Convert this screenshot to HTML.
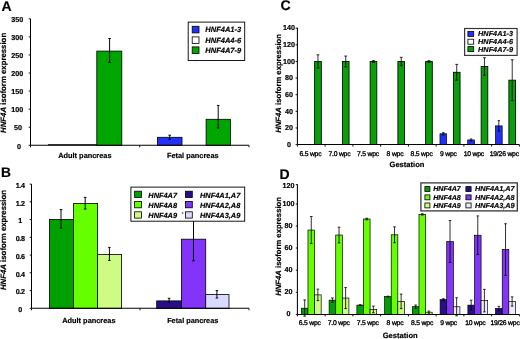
<!DOCTYPE html>
<html lang="en"><head><meta charset="utf-8"><title>HNF4A isoform expression</title>
<style>html,body{margin:0;padding:0;background:#fff;overflow:hidden}body{width:520px;height:339px}svg{display:block;font-family:'Liberation Sans', Arial, Helvetica, sans-serif;fill:#000}</style></head><body>
<svg width="520" height="339" viewBox="0 0 520 339" text-rendering="geometricPrecision">
<rect x="0" y="0" width="520" height="339" fill="#fff" stroke="none"/>
<defs><filter id="soft" x="0" y="0" width="520" height="339" filterUnits="userSpaceOnUse"><feGaussianBlur stdDeviation="0.35"/></filter></defs>
<g id="figure" filter="url(#soft)">
<text x="1.60" y="10.90" font-size="14" text-anchor="start" font-weight="bold" font-style="normal"  stroke="#000" stroke-width="0.18">A</text>
<line x1="48.00" y1="144.70" x2="97.00" y2="144.70" stroke="#000" stroke-width="1.035"/>
<rect x="96.80" y="51.10" width="25.00" height="94.20" fill="#05a605" stroke="#000" stroke-width="0.805"/>
<line x1="109.60" y1="38.50" x2="109.60" y2="62.40" stroke="#000" stroke-width="0.977"/>
<line x1="108.30" y1="38.50" x2="110.90" y2="38.50" stroke="#000" stroke-width="0.977"/>
<line x1="108.30" y1="62.40" x2="110.90" y2="62.40" stroke="#000" stroke-width="0.977"/>
<rect x="157.40" y="137.30" width="24.60" height="8.00" fill="#2233f6" stroke="#000" stroke-width="0.805"/>
<line x1="169.70" y1="135.20" x2="169.70" y2="139.30" stroke="#000" stroke-width="0.977"/>
<line x1="168.40" y1="135.20" x2="171.00" y2="135.20" stroke="#000" stroke-width="0.977"/>
<line x1="168.40" y1="139.30" x2="171.00" y2="139.30" stroke="#000" stroke-width="0.977"/>
<rect x="206.10" y="119.30" width="24.30" height="26.00" fill="#05a605" stroke="#000" stroke-width="0.805"/>
<line x1="218.20" y1="105.40" x2="218.20" y2="128.10" stroke="#000" stroke-width="0.977"/>
<line x1="216.90" y1="105.40" x2="219.50" y2="105.40" stroke="#000" stroke-width="0.977"/>
<line x1="216.90" y1="128.10" x2="219.50" y2="128.10" stroke="#000" stroke-width="0.977"/>
<line x1="30.50" y1="18.80" x2="30.50" y2="145.30" stroke="#000" stroke-width="1.035"/>
<line x1="30.50" y1="145.30" x2="249.00" y2="145.30" stroke="#000" stroke-width="1.035"/>
<line x1="28.70" y1="145.30" x2="30.50" y2="145.30" stroke="#000" stroke-width="0.92"/>
<text x="21.00" y="148.50" font-size="7.2" text-anchor="end" font-weight="bold" font-style="normal"  stroke="#000" stroke-width="0.18">0</text>
<line x1="28.70" y1="127.23" x2="30.50" y2="127.23" stroke="#000" stroke-width="0.92"/>
<text x="21.90" y="130.43" font-size="7.2" text-anchor="end" font-weight="bold" font-style="normal"  stroke="#000" stroke-width="0.18">50</text>
<line x1="28.70" y1="109.16" x2="30.50" y2="109.16" stroke="#000" stroke-width="0.92"/>
<text x="23.30" y="112.36" font-size="7.2" text-anchor="end" font-weight="bold" font-style="normal"  stroke="#000" stroke-width="0.18">100</text>
<line x1="28.70" y1="91.09" x2="30.50" y2="91.09" stroke="#000" stroke-width="0.92"/>
<text x="23.30" y="94.29" font-size="7.2" text-anchor="end" font-weight="bold" font-style="normal"  stroke="#000" stroke-width="0.18">150</text>
<line x1="28.70" y1="73.01" x2="30.50" y2="73.01" stroke="#000" stroke-width="0.92"/>
<text x="23.30" y="76.21" font-size="7.2" text-anchor="end" font-weight="bold" font-style="normal"  stroke="#000" stroke-width="0.18">200</text>
<line x1="28.70" y1="54.94" x2="30.50" y2="54.94" stroke="#000" stroke-width="0.92"/>
<text x="23.30" y="58.14" font-size="7.2" text-anchor="end" font-weight="bold" font-style="normal"  stroke="#000" stroke-width="0.18">250</text>
<line x1="28.70" y1="36.87" x2="30.50" y2="36.87" stroke="#000" stroke-width="0.92"/>
<text x="23.30" y="40.07" font-size="7.2" text-anchor="end" font-weight="bold" font-style="normal"  stroke="#000" stroke-width="0.18">300</text>
<line x1="28.70" y1="18.80" x2="30.50" y2="18.80" stroke="#000" stroke-width="0.92"/>
<text x="23.30" y="22.00" font-size="7.2" text-anchor="end" font-weight="bold" font-style="normal"  stroke="#000" stroke-width="0.18">350</text>
<line x1="30.50" y1="145.30" x2="30.50" y2="147.30" stroke="#000" stroke-width="0.92"/>
<line x1="139.70" y1="145.30" x2="139.70" y2="147.30" stroke="#000" stroke-width="0.92"/>
<line x1="249.00" y1="145.30" x2="249.00" y2="147.30" stroke="#000" stroke-width="0.92"/>
<text x="84.90" y="157.80" font-size="7.4" text-anchor="middle" font-weight="bold" font-style="normal"  stroke="#000" stroke-width="0.18">Adult pancreas</text>
<text x="192.80" y="157.80" font-size="7.4" text-anchor="middle" font-weight="bold" font-style="normal"  stroke="#000" stroke-width="0.18">Fetal pancreas</text>
<text transform="translate(5.70,82.90) rotate(-90)" font-size="7.8" text-anchor="middle" font-weight="bold" stroke="#000" stroke-width="0.18"><tspan font-style="italic">HNF4A</tspan> isoform expression</text>
<rect x="188.20" y="22.10" width="56.50" height="38.40" fill="#fff" stroke="#000" stroke-width="0.92"/>
<rect x="192.20" y="26.30" width="6.80" height="6.60" fill="#2233f6" stroke="#000" stroke-width="0.805"/>
<text x="205.30" y="32.20" font-size="7.5" text-anchor="start" font-weight="bold" font-style="italic"  stroke="#000" stroke-width="0.18">HNF4A1-3</text>
<rect x="192.20" y="36.90" width="6.80" height="6.50" fill="#ffffff" stroke="#000" stroke-width="0.805"/>
<text x="205.30" y="42.70" font-size="7.5" text-anchor="start" font-weight="bold" font-style="italic"  stroke="#000" stroke-width="0.18">HNF4A4-6</text>
<rect x="192.20" y="46.90" width="6.80" height="6.60" fill="#05a605" stroke="#000" stroke-width="0.805"/>
<text x="205.30" y="52.90" font-size="7.5" text-anchor="start" font-weight="bold" font-style="italic"  stroke="#000" stroke-width="0.18">HNF4A7-9</text>
<text x="1.10" y="177.40" font-size="13.8" text-anchor="start" font-weight="bold" font-style="normal"  stroke="#000" stroke-width="0.18">B</text>
<rect x="49.40" y="219.40" width="24.20" height="88.90" fill="#04a004" stroke="#000" stroke-width="0.805"/>
<rect x="73.60" y="203.50" width="24.00" height="104.80" fill="#66ff00" stroke="#000" stroke-width="0.805"/>
<rect x="97.60" y="254.50" width="24.00" height="53.80" fill="#cefb83" stroke="#000" stroke-width="0.805"/>
<line x1="61.00" y1="209.60" x2="61.00" y2="228.10" stroke="#000" stroke-width="0.977"/>
<line x1="59.70" y1="209.60" x2="62.30" y2="209.60" stroke="#000" stroke-width="0.977"/>
<line x1="59.70" y1="228.10" x2="62.30" y2="228.10" stroke="#000" stroke-width="0.977"/>
<line x1="85.20" y1="197.40" x2="85.20" y2="209.00" stroke="#000" stroke-width="0.977"/>
<line x1="83.90" y1="197.40" x2="86.50" y2="197.40" stroke="#000" stroke-width="0.977"/>
<line x1="83.90" y1="209.00" x2="86.50" y2="209.00" stroke="#000" stroke-width="0.977"/>
<line x1="109.40" y1="247.40" x2="109.40" y2="260.40" stroke="#000" stroke-width="0.977"/>
<line x1="108.20" y1="247.40" x2="110.60" y2="247.40" stroke="#000" stroke-width="0.977"/>
<line x1="108.20" y1="260.40" x2="110.60" y2="260.40" stroke="#000" stroke-width="0.977"/>
<rect x="156.70" y="300.90" width="24.80" height="7.40" fill="#2a0d8c" stroke="#000" stroke-width="0.805"/>
<rect x="181.50" y="239.20" width="24.20" height="69.10" fill="#8234f8" stroke="#000" stroke-width="0.805"/>
<rect x="205.70" y="294.60" width="23.30" height="13.70" fill="#d9d9ff" stroke="#000" stroke-width="0.805"/>
<line x1="169.10" y1="298.30" x2="169.10" y2="302.60" stroke="#000" stroke-width="0.977"/>
<line x1="167.80" y1="298.30" x2="170.40" y2="298.30" stroke="#000" stroke-width="0.977"/>
<line x1="167.80" y1="302.60" x2="170.40" y2="302.60" stroke="#000" stroke-width="0.977"/>
<line x1="193.50" y1="217.80" x2="193.50" y2="260.80" stroke="#000" stroke-width="0.977"/>
<line x1="192.20" y1="217.80" x2="194.80" y2="217.80" stroke="#000" stroke-width="0.977"/>
<line x1="192.20" y1="260.80" x2="194.80" y2="260.80" stroke="#000" stroke-width="0.977"/>
<line x1="216.90" y1="290.60" x2="216.90" y2="298.00" stroke="#000" stroke-width="0.977"/>
<line x1="215.60" y1="290.60" x2="218.20" y2="290.60" stroke="#000" stroke-width="0.977"/>
<line x1="215.60" y1="298.00" x2="218.20" y2="298.00" stroke="#000" stroke-width="0.977"/>
<line x1="31.50" y1="184.10" x2="31.50" y2="308.30" stroke="#000" stroke-width="1.035"/>
<line x1="31.50" y1="308.30" x2="249.00" y2="308.30" stroke="#000" stroke-width="1.035"/>
<line x1="29.70" y1="308.30" x2="31.50" y2="308.30" stroke="#000" stroke-width="0.92"/>
<text x="20.20" y="312.20" font-size="7.2" text-anchor="middle" font-weight="bold" font-style="normal" letter-spacing="-0.35" stroke="#000" stroke-width="0.18">0</text>
<line x1="29.70" y1="290.56" x2="31.50" y2="290.56" stroke="#000" stroke-width="0.92"/>
<text x="20.20" y="294.46" font-size="7.2" text-anchor="middle" font-weight="bold" font-style="normal" letter-spacing="-0.35" stroke="#000" stroke-width="0.18">0.2</text>
<line x1="29.70" y1="272.81" x2="31.50" y2="272.81" stroke="#000" stroke-width="0.92"/>
<text x="20.20" y="276.71" font-size="7.2" text-anchor="middle" font-weight="bold" font-style="normal" letter-spacing="-0.35" stroke="#000" stroke-width="0.18">0.4</text>
<line x1="29.70" y1="255.07" x2="31.50" y2="255.07" stroke="#000" stroke-width="0.92"/>
<text x="20.20" y="258.97" font-size="7.2" text-anchor="middle" font-weight="bold" font-style="normal" letter-spacing="-0.35" stroke="#000" stroke-width="0.18">0.6</text>
<line x1="29.70" y1="237.33" x2="31.50" y2="237.33" stroke="#000" stroke-width="0.92"/>
<text x="20.20" y="241.23" font-size="7.2" text-anchor="middle" font-weight="bold" font-style="normal" letter-spacing="-0.35" stroke="#000" stroke-width="0.18">0.8</text>
<line x1="29.70" y1="219.59" x2="31.50" y2="219.59" stroke="#000" stroke-width="0.92"/>
<text x="20.20" y="223.49" font-size="7.2" text-anchor="middle" font-weight="bold" font-style="normal" letter-spacing="-0.35" stroke="#000" stroke-width="0.18">1</text>
<line x1="29.70" y1="201.84" x2="31.50" y2="201.84" stroke="#000" stroke-width="0.92"/>
<text x="20.20" y="205.74" font-size="7.2" text-anchor="middle" font-weight="bold" font-style="normal" letter-spacing="-0.35" stroke="#000" stroke-width="0.18">1.2</text>
<line x1="29.70" y1="184.10" x2="31.50" y2="184.10" stroke="#000" stroke-width="0.92"/>
<text x="20.20" y="188.00" font-size="7.2" text-anchor="middle" font-weight="bold" font-style="normal" letter-spacing="-0.35" stroke="#000" stroke-width="0.18">1.4</text>
<line x1="31.50" y1="308.30" x2="31.50" y2="310.30" stroke="#000" stroke-width="0.92"/>
<line x1="140.00" y1="308.30" x2="140.00" y2="310.30" stroke="#000" stroke-width="0.92"/>
<line x1="249.00" y1="308.30" x2="249.00" y2="310.30" stroke="#000" stroke-width="0.92"/>
<text x="88.90" y="323.20" font-size="7.4" text-anchor="middle" font-weight="bold" font-style="normal"  stroke="#000" stroke-width="0.18">Adult pancreas</text>
<text x="192.70" y="323.00" font-size="7.3" text-anchor="middle" font-weight="bold" font-style="normal"  stroke="#000" stroke-width="0.18">Fetal pancreas</text>
<text transform="translate(5.60,240.00) rotate(-90)" font-size="7.8" text-anchor="middle" font-weight="bold" stroke="#000" stroke-width="0.18"><tspan font-style="italic">HNF4A</tspan> isoform expression</text>
<rect x="130.90" y="187.10" width="113.80" height="34.10" fill="#fff" stroke="#000" stroke-width="0.92"/>
<rect x="134.60" y="191.20" width="6.80" height="6.30" fill="#04a004" stroke="#000" stroke-width="0.805"/>
<text x="148.30" y="197.50" font-size="7.4" text-anchor="start" font-weight="bold" font-style="italic"  stroke="#000" stroke-width="0.18">HNF4A7</text>
<rect x="134.60" y="201.50" width="6.80" height="6.30" fill="#66ff00" stroke="#000" stroke-width="0.805"/>
<text x="148.30" y="207.80" font-size="7.4" text-anchor="start" font-weight="bold" font-style="italic"  stroke="#000" stroke-width="0.18">HNF4A8</text>
<rect x="134.60" y="211.80" width="6.80" height="6.30" fill="#cefb83" stroke="#000" stroke-width="0.805"/>
<text x="148.30" y="218.20" font-size="7.4" text-anchor="start" font-weight="bold" font-style="italic"  stroke="#000" stroke-width="0.18">HNF4A9</text>
<line x1="181.80" y1="213.00" x2="183.40" y2="213.00" stroke="#000" stroke-width="0.92"/>
<rect x="185.50" y="191.20" width="6.80" height="6.30" fill="#2a0d8c" stroke="#000" stroke-width="0.805"/>
<text x="200.00" y="197.50" font-size="7.4" text-anchor="start" font-weight="bold" font-style="italic"  stroke="#000" stroke-width="0.18">HNF4A1,A7</text>
<rect x="185.50" y="201.50" width="6.80" height="6.30" fill="#8234f8" stroke="#000" stroke-width="0.805"/>
<text x="200.00" y="207.80" font-size="7.4" text-anchor="start" font-weight="bold" font-style="italic"  stroke="#000" stroke-width="0.18">HNF4A2,A8</text>
<rect x="185.50" y="211.80" width="6.80" height="6.30" fill="#d9d9ff" stroke="#000" stroke-width="0.805"/>
<text x="200.00" y="218.20" font-size="7.4" text-anchor="start" font-weight="bold" font-style="italic"  stroke="#000" stroke-width="0.18">HNF4A3,A9</text>
<text x="280.40" y="10.40" font-size="14" text-anchor="start" font-weight="bold" font-style="normal"  stroke="#000" stroke-width="0.18">C</text>
<rect x="314.62" y="61.46" width="6.70" height="83.14" fill="#079e07" stroke="#000" stroke-width="0.805"/>
<line x1="317.97" y1="54.81" x2="317.97" y2="68.11" stroke="#000" stroke-width="0.805"/>
<line x1="316.57" y1="54.81" x2="319.37" y2="54.81" stroke="#000" stroke-width="0.805"/>
<line x1="316.57" y1="68.11" x2="319.37" y2="68.11" stroke="#000" stroke-width="0.805"/>
<rect x="342.37" y="61.46" width="6.70" height="83.14" fill="#079e07" stroke="#000" stroke-width="0.805"/>
<line x1="345.72" y1="56.05" x2="345.72" y2="66.86" stroke="#000" stroke-width="0.805"/>
<line x1="344.32" y1="56.05" x2="347.12" y2="56.05" stroke="#000" stroke-width="0.805"/>
<line x1="344.32" y1="66.86" x2="347.12" y2="66.86" stroke="#000" stroke-width="0.805"/>
<rect x="370.12" y="61.46" width="6.70" height="83.14" fill="#079e07" stroke="#000" stroke-width="0.805"/>
<line x1="373.47" y1="60.63" x2="373.47" y2="62.29" stroke="#000" stroke-width="0.805"/>
<line x1="372.07" y1="60.63" x2="374.87" y2="60.63" stroke="#000" stroke-width="0.805"/>
<line x1="372.07" y1="62.29" x2="374.87" y2="62.29" stroke="#000" stroke-width="0.805"/>
<rect x="397.87" y="61.46" width="6.70" height="83.14" fill="#079e07" stroke="#000" stroke-width="0.805"/>
<line x1="401.22" y1="57.30" x2="401.22" y2="65.61" stroke="#000" stroke-width="0.805"/>
<line x1="399.82" y1="57.30" x2="402.62" y2="57.30" stroke="#000" stroke-width="0.805"/>
<line x1="399.82" y1="65.61" x2="402.62" y2="65.61" stroke="#000" stroke-width="0.805"/>
<rect x="425.62" y="61.46" width="6.70" height="83.14" fill="#079e07" stroke="#000" stroke-width="0.805"/>
<line x1="428.97" y1="60.63" x2="428.97" y2="62.29" stroke="#000" stroke-width="0.805"/>
<line x1="427.57" y1="60.63" x2="430.37" y2="60.63" stroke="#000" stroke-width="0.805"/>
<line x1="427.57" y1="62.29" x2="430.37" y2="62.29" stroke="#000" stroke-width="0.805"/>
<rect x="439.97" y="133.79" width="6.70" height="10.81" fill="#2233f6" stroke="#000" stroke-width="0.69"/>
<line x1="443.32" y1="132.63" x2="443.32" y2="134.96" stroke="#000" stroke-width="0.805"/>
<line x1="442.12" y1="132.63" x2="444.52" y2="132.63" stroke="#000" stroke-width="0.805"/>
<line x1="442.12" y1="134.96" x2="444.52" y2="134.96" stroke="#000" stroke-width="0.805"/>
<rect x="453.37" y="72.27" width="6.70" height="72.33" fill="#079e07" stroke="#000" stroke-width="0.805"/>
<line x1="456.72" y1="64.37" x2="456.72" y2="80.16" stroke="#000" stroke-width="0.805"/>
<line x1="455.32" y1="64.37" x2="458.12" y2="64.37" stroke="#000" stroke-width="0.805"/>
<line x1="455.32" y1="80.16" x2="458.12" y2="80.16" stroke="#000" stroke-width="0.805"/>
<rect x="467.72" y="139.94" width="6.70" height="4.66" fill="#2233f6" stroke="#000" stroke-width="0.69"/>
<line x1="471.07" y1="138.95" x2="471.07" y2="140.94" stroke="#000" stroke-width="0.805"/>
<line x1="469.88" y1="138.95" x2="472.27" y2="138.95" stroke="#000" stroke-width="0.805"/>
<line x1="469.88" y1="140.94" x2="472.27" y2="140.94" stroke="#000" stroke-width="0.805"/>
<rect x="481.12" y="66.45" width="6.70" height="78.15" fill="#079e07" stroke="#000" stroke-width="0.805"/>
<line x1="484.47" y1="57.72" x2="484.47" y2="75.18" stroke="#000" stroke-width="0.805"/>
<line x1="483.07" y1="57.72" x2="485.87" y2="57.72" stroke="#000" stroke-width="0.805"/>
<line x1="483.07" y1="75.18" x2="485.87" y2="75.18" stroke="#000" stroke-width="0.805"/>
<rect x="495.47" y="125.89" width="6.70" height="18.71" fill="#2233f6" stroke="#000" stroke-width="0.69"/>
<line x1="498.82" y1="120.65" x2="498.82" y2="131.13" stroke="#000" stroke-width="0.805"/>
<line x1="497.62" y1="120.65" x2="500.02" y2="120.65" stroke="#000" stroke-width="0.805"/>
<line x1="497.62" y1="131.13" x2="500.02" y2="131.13" stroke="#000" stroke-width="0.805"/>
<rect x="508.87" y="80.16" width="6.70" height="64.44" fill="#079e07" stroke="#000" stroke-width="0.805"/>
<line x1="512.22" y1="59.79" x2="512.22" y2="100.53" stroke="#000" stroke-width="0.805"/>
<line x1="510.82" y1="59.79" x2="513.62" y2="59.79" stroke="#000" stroke-width="0.805"/>
<line x1="510.82" y1="100.53" x2="513.62" y2="100.53" stroke="#000" stroke-width="0.805"/>
<line x1="297.40" y1="27.80" x2="297.40" y2="144.60" stroke="#000" stroke-width="1.035"/>
<line x1="297.40" y1="144.60" x2="519.40" y2="144.60" stroke="#000" stroke-width="1.035"/>
<line x1="295.60" y1="144.60" x2="297.40" y2="144.60" stroke="#000" stroke-width="0.92"/>
<text x="289.00" y="146.80" font-size="7.2" text-anchor="middle" font-weight="bold" font-style="normal"  stroke="#000" stroke-width="0.18">0</text>
<line x1="295.60" y1="127.97" x2="297.40" y2="127.97" stroke="#000" stroke-width="0.92"/>
<text x="289.00" y="130.17" font-size="7.2" text-anchor="middle" font-weight="bold" font-style="normal"  stroke="#000" stroke-width="0.18">20</text>
<line x1="295.60" y1="111.34" x2="297.40" y2="111.34" stroke="#000" stroke-width="0.92"/>
<text x="289.00" y="113.54" font-size="7.2" text-anchor="middle" font-weight="bold" font-style="normal"  stroke="#000" stroke-width="0.18">40</text>
<line x1="295.60" y1="94.71" x2="297.40" y2="94.71" stroke="#000" stroke-width="0.92"/>
<text x="289.00" y="96.91" font-size="7.2" text-anchor="middle" font-weight="bold" font-style="normal"  stroke="#000" stroke-width="0.18">60</text>
<line x1="295.60" y1="78.09" x2="297.40" y2="78.09" stroke="#000" stroke-width="0.92"/>
<text x="289.00" y="80.29" font-size="7.2" text-anchor="middle" font-weight="bold" font-style="normal"  stroke="#000" stroke-width="0.18">80</text>
<line x1="295.60" y1="61.46" x2="297.40" y2="61.46" stroke="#000" stroke-width="0.92"/>
<text x="289.00" y="63.66" font-size="7.2" text-anchor="middle" font-weight="bold" font-style="normal"  stroke="#000" stroke-width="0.18">100</text>
<line x1="295.60" y1="44.83" x2="297.40" y2="44.83" stroke="#000" stroke-width="0.92"/>
<text x="289.00" y="47.03" font-size="7.2" text-anchor="middle" font-weight="bold" font-style="normal"  stroke="#000" stroke-width="0.18">120</text>
<line x1="295.60" y1="28.20" x2="297.40" y2="28.20" stroke="#000" stroke-width="0.92"/>
<text x="289.00" y="30.40" font-size="7.2" text-anchor="middle" font-weight="bold" font-style="normal"  stroke="#000" stroke-width="0.18">140</text>
<line x1="297.40" y1="144.60" x2="297.40" y2="146.60" stroke="#000" stroke-width="0.92"/>
<line x1="325.15" y1="144.60" x2="325.15" y2="146.60" stroke="#000" stroke-width="0.92"/>
<line x1="352.90" y1="144.60" x2="352.90" y2="146.60" stroke="#000" stroke-width="0.92"/>
<line x1="380.65" y1="144.60" x2="380.65" y2="146.60" stroke="#000" stroke-width="0.92"/>
<line x1="408.40" y1="144.60" x2="408.40" y2="146.60" stroke="#000" stroke-width="0.92"/>
<line x1="436.15" y1="144.60" x2="436.15" y2="146.60" stroke="#000" stroke-width="0.92"/>
<line x1="463.90" y1="144.60" x2="463.90" y2="146.60" stroke="#000" stroke-width="0.92"/>
<line x1="491.65" y1="144.60" x2="491.65" y2="146.60" stroke="#000" stroke-width="0.92"/>
<line x1="519.40" y1="144.60" x2="519.40" y2="146.60" stroke="#000" stroke-width="0.92"/>
<text x="310.40" y="155.60" font-size="6.8" text-anchor="middle" font-weight="normal" font-style="normal" letter-spacing="-0.2" stroke="#000" stroke-width="0.32">6.5 wpc</text>
<text x="339.40" y="155.60" font-size="6.8" text-anchor="middle" font-weight="normal" font-style="normal" letter-spacing="-0.2" stroke="#000" stroke-width="0.32">7.0 wpc</text>
<text x="368.00" y="155.60" font-size="6.8" text-anchor="middle" font-weight="normal" font-style="normal" letter-spacing="-0.2" stroke="#000" stroke-width="0.32">7.5 wpc</text>
<text x="395.00" y="155.60" font-size="6.8" text-anchor="middle" font-weight="normal" font-style="normal" letter-spacing="-0.2" stroke="#000" stroke-width="0.32">8 wpc</text>
<text x="421.60" y="155.60" font-size="6.8" text-anchor="middle" font-weight="normal" font-style="normal" letter-spacing="-0.2" stroke="#000" stroke-width="0.32">8.5 wpc</text>
<text x="448.30" y="155.60" font-size="6.8" text-anchor="middle" font-weight="normal" font-style="normal" letter-spacing="-0.2" stroke="#000" stroke-width="0.32">9 wpc</text>
<text x="473.80" y="155.60" font-size="6.8" text-anchor="middle" font-weight="normal" font-style="normal" letter-spacing="-0.2" stroke="#000" stroke-width="0.32">10 wpc</text>
<text x="504.30" y="155.60" font-size="6.8" text-anchor="middle" font-weight="normal" font-style="normal" letter-spacing="-0.2" stroke="#000" stroke-width="0.32">19/26 wpc</text>
<text x="407.00" y="167.10" font-size="7.6" text-anchor="middle" font-weight="bold" font-style="normal"  stroke="#000" stroke-width="0.18">Gestation</text>
<text transform="translate(281.10,83.40) rotate(-90)" font-size="7.7" text-anchor="middle" font-weight="bold" stroke="#000" stroke-width="0.18"><tspan font-style="italic">HNF4A</tspan> isoform expression</text>
<rect x="464.60" y="28.50" width="52.50" height="26.90" fill="#fff" stroke="#333" stroke-width="1.15"/>
<rect x="467.90" y="31.40" width="5.80" height="5.00" fill="#2233f6" stroke="#000" stroke-width="0.805"/>
<text x="478.10" y="36.40" font-size="7.3" text-anchor="start" font-weight="bold" font-style="italic"  stroke="#000" stroke-width="0.18">HNF4A1-3</text>
<rect x="467.90" y="39.20" width="5.80" height="5.00" fill="#ffffff" stroke="#000" stroke-width="0.805"/>
<text x="478.10" y="44.20" font-size="7.3" text-anchor="start" font-weight="bold" font-style="italic"  stroke="#000" stroke-width="0.18">HNF4A4-6</text>
<rect x="467.90" y="46.60" width="5.80" height="5.00" fill="#05a605" stroke="#000" stroke-width="0.805"/>
<text x="478.10" y="51.80" font-size="7.3" text-anchor="start" font-weight="bold" font-style="italic"  stroke="#000" stroke-width="0.18">HNF4A7-9</text>
<text x="279.60" y="178.70" font-size="14" text-anchor="start" font-weight="bold" font-style="normal"  stroke="#000" stroke-width="0.18">D</text>
<rect x="301.38" y="308.22" width="6.60" height="6.18" fill="#04a004" stroke="#000" stroke-width="0.69"/>
<rect x="307.98" y="230.05" width="6.60" height="84.35" fill="#66ff00" stroke="#000" stroke-width="0.69"/>
<rect x="314.57" y="294.86" width="6.60" height="19.54" fill="#cefb83" stroke="#000" stroke-width="0.69"/>
<line x1="304.68" y1="299.94" x2="304.68" y2="316.17" stroke="#000" stroke-width="0.805"/>
<line x1="303.38" y1="299.94" x2="305.98" y2="299.94" stroke="#000" stroke-width="0.805"/>
<line x1="303.38" y1="316.17" x2="305.98" y2="316.17" stroke="#000" stroke-width="0.805"/>
<line x1="311.27" y1="216.48" x2="311.27" y2="243.63" stroke="#000" stroke-width="0.805"/>
<line x1="309.97" y1="216.48" x2="312.57" y2="216.48" stroke="#000" stroke-width="0.805"/>
<line x1="309.97" y1="243.63" x2="312.57" y2="243.63" stroke="#000" stroke-width="0.805"/>
<line x1="317.88" y1="289.12" x2="317.88" y2="300.60" stroke="#000" stroke-width="0.805"/>
<line x1="316.57" y1="289.12" x2="319.18" y2="289.12" stroke="#000" stroke-width="0.805"/>
<line x1="316.57" y1="300.60" x2="319.18" y2="300.60" stroke="#000" stroke-width="0.805"/>
<rect x="329.12" y="300.16" width="6.60" height="14.24" fill="#04a004" stroke="#000" stroke-width="0.69"/>
<rect x="335.73" y="235.02" width="6.60" height="79.38" fill="#66ff00" stroke="#000" stroke-width="0.69"/>
<rect x="342.32" y="298.06" width="6.60" height="16.34" fill="#cefb83" stroke="#000" stroke-width="0.69"/>
<line x1="332.43" y1="297.95" x2="332.43" y2="302.37" stroke="#000" stroke-width="0.805"/>
<line x1="331.12" y1="297.95" x2="333.73" y2="297.95" stroke="#000" stroke-width="0.805"/>
<line x1="331.12" y1="302.37" x2="333.73" y2="302.37" stroke="#000" stroke-width="0.805"/>
<line x1="339.02" y1="227.18" x2="339.02" y2="242.86" stroke="#000" stroke-width="0.805"/>
<line x1="337.72" y1="227.18" x2="340.32" y2="227.18" stroke="#000" stroke-width="0.805"/>
<line x1="337.72" y1="242.86" x2="340.32" y2="242.86" stroke="#000" stroke-width="0.805"/>
<line x1="345.62" y1="287.57" x2="345.62" y2="308.55" stroke="#000" stroke-width="0.805"/>
<line x1="344.32" y1="287.57" x2="346.93" y2="287.57" stroke="#000" stroke-width="0.805"/>
<line x1="344.32" y1="308.55" x2="346.93" y2="308.55" stroke="#000" stroke-width="0.805"/>
<rect x="356.88" y="305.13" width="6.60" height="9.27" fill="#04a004" stroke="#000" stroke-width="0.69"/>
<rect x="363.48" y="219.01" width="6.60" height="95.39" fill="#66ff00" stroke="#000" stroke-width="0.69"/>
<rect x="370.07" y="309.43" width="6.60" height="4.97" fill="#cefb83" stroke="#000" stroke-width="0.69"/>
<line x1="360.18" y1="304.68" x2="360.18" y2="305.57" stroke="#000" stroke-width="0.805"/>
<line x1="358.88" y1="304.68" x2="361.48" y2="304.68" stroke="#000" stroke-width="0.805"/>
<line x1="358.88" y1="305.57" x2="361.48" y2="305.57" stroke="#000" stroke-width="0.805"/>
<line x1="366.77" y1="218.24" x2="366.77" y2="219.79" stroke="#000" stroke-width="0.805"/>
<line x1="365.47" y1="218.24" x2="368.07" y2="218.24" stroke="#000" stroke-width="0.805"/>
<line x1="365.47" y1="219.79" x2="368.07" y2="219.79" stroke="#000" stroke-width="0.805"/>
<line x1="373.38" y1="306.12" x2="373.38" y2="312.74" stroke="#000" stroke-width="0.805"/>
<line x1="372.07" y1="306.12" x2="374.68" y2="306.12" stroke="#000" stroke-width="0.805"/>
<line x1="372.07" y1="312.74" x2="374.68" y2="312.74" stroke="#000" stroke-width="0.805"/>
<rect x="384.62" y="296.63" width="6.60" height="17.77" fill="#04a004" stroke="#000" stroke-width="0.69"/>
<rect x="391.23" y="234.80" width="6.60" height="79.60" fill="#66ff00" stroke="#000" stroke-width="0.69"/>
<rect x="397.82" y="301.37" width="6.60" height="13.03" fill="#cefb83" stroke="#000" stroke-width="0.69"/>
<line x1="387.93" y1="296.18" x2="387.93" y2="297.07" stroke="#000" stroke-width="0.805"/>
<line x1="386.62" y1="296.18" x2="389.23" y2="296.18" stroke="#000" stroke-width="0.805"/>
<line x1="386.62" y1="297.07" x2="389.23" y2="297.07" stroke="#000" stroke-width="0.805"/>
<line x1="394.52" y1="226.85" x2="394.52" y2="242.75" stroke="#000" stroke-width="0.805"/>
<line x1="393.22" y1="226.85" x2="395.82" y2="226.85" stroke="#000" stroke-width="0.805"/>
<line x1="393.22" y1="242.75" x2="395.82" y2="242.75" stroke="#000" stroke-width="0.805"/>
<line x1="401.12" y1="294.09" x2="401.12" y2="308.66" stroke="#000" stroke-width="0.805"/>
<line x1="399.82" y1="294.09" x2="402.43" y2="294.09" stroke="#000" stroke-width="0.805"/>
<line x1="399.82" y1="308.66" x2="402.43" y2="308.66" stroke="#000" stroke-width="0.805"/>
<rect x="412.38" y="306.67" width="6.60" height="7.73" fill="#04a004" stroke="#000" stroke-width="0.69"/>
<rect x="418.98" y="214.38" width="6.60" height="100.02" fill="#66ff00" stroke="#000" stroke-width="0.69"/>
<rect x="425.57" y="312.19" width="6.60" height="2.21" fill="#cefb83" stroke="#000" stroke-width="0.69"/>
<line x1="415.68" y1="305.02" x2="415.68" y2="308.33" stroke="#000" stroke-width="0.805"/>
<line x1="414.38" y1="305.02" x2="416.98" y2="305.02" stroke="#000" stroke-width="0.805"/>
<line x1="414.38" y1="308.33" x2="416.98" y2="308.33" stroke="#000" stroke-width="0.805"/>
<line x1="422.27" y1="213.72" x2="422.27" y2="215.04" stroke="#000" stroke-width="0.805"/>
<line x1="420.97" y1="213.72" x2="423.57" y2="213.72" stroke="#000" stroke-width="0.805"/>
<line x1="420.97" y1="215.04" x2="423.57" y2="215.04" stroke="#000" stroke-width="0.805"/>
<line x1="428.88" y1="311.09" x2="428.88" y2="313.30" stroke="#000" stroke-width="0.805"/>
<line x1="427.57" y1="311.09" x2="430.18" y2="311.09" stroke="#000" stroke-width="0.805"/>
<line x1="427.57" y1="313.30" x2="430.18" y2="313.30" stroke="#000" stroke-width="0.805"/>
<rect x="440.12" y="299.61" width="6.60" height="14.79" fill="#2a0d8c" stroke="#000" stroke-width="0.69"/>
<rect x="446.73" y="241.54" width="6.60" height="72.86" fill="#8234f8" stroke="#000" stroke-width="0.69"/>
<rect x="453.32" y="306.78" width="6.60" height="7.62" fill="#ececff" stroke="#000" stroke-width="0.69"/>
<line x1="443.43" y1="298.72" x2="443.43" y2="300.49" stroke="#000" stroke-width="0.805"/>
<line x1="442.12" y1="298.72" x2="444.73" y2="298.72" stroke="#000" stroke-width="0.805"/>
<line x1="442.12" y1="300.49" x2="444.73" y2="300.49" stroke="#000" stroke-width="0.805"/>
<line x1="450.02" y1="220.56" x2="450.02" y2="262.51" stroke="#000" stroke-width="0.805"/>
<line x1="448.72" y1="220.56" x2="451.32" y2="220.56" stroke="#000" stroke-width="0.805"/>
<line x1="448.72" y1="262.51" x2="451.32" y2="262.51" stroke="#000" stroke-width="0.805"/>
<line x1="456.62" y1="297.73" x2="456.62" y2="315.84" stroke="#000" stroke-width="0.805"/>
<line x1="455.32" y1="297.73" x2="457.93" y2="297.73" stroke="#000" stroke-width="0.805"/>
<line x1="455.32" y1="315.84" x2="457.93" y2="315.84" stroke="#000" stroke-width="0.805"/>
<rect x="467.88" y="305.13" width="6.60" height="9.27" fill="#2a0d8c" stroke="#000" stroke-width="0.69"/>
<rect x="474.48" y="235.24" width="6.60" height="79.16" fill="#8234f8" stroke="#000" stroke-width="0.69"/>
<rect x="481.07" y="300.60" width="6.60" height="13.80" fill="#ececff" stroke="#000" stroke-width="0.69"/>
<line x1="471.18" y1="300.16" x2="471.18" y2="310.09" stroke="#000" stroke-width="0.805"/>
<line x1="469.88" y1="300.16" x2="472.48" y2="300.16" stroke="#000" stroke-width="0.805"/>
<line x1="469.88" y1="310.09" x2="472.48" y2="310.09" stroke="#000" stroke-width="0.805"/>
<line x1="477.77" y1="215.92" x2="477.77" y2="254.56" stroke="#000" stroke-width="0.805"/>
<line x1="476.47" y1="215.92" x2="479.07" y2="215.92" stroke="#000" stroke-width="0.805"/>
<line x1="476.47" y1="254.56" x2="479.07" y2="254.56" stroke="#000" stroke-width="0.805"/>
<line x1="484.38" y1="289.34" x2="484.38" y2="311.86" stroke="#000" stroke-width="0.805"/>
<line x1="483.07" y1="289.34" x2="485.68" y2="289.34" stroke="#000" stroke-width="0.805"/>
<line x1="483.07" y1="311.86" x2="485.68" y2="311.86" stroke="#000" stroke-width="0.805"/>
<rect x="495.62" y="308.44" width="6.60" height="5.96" fill="#2a0d8c" stroke="#000" stroke-width="0.69"/>
<rect x="502.23" y="249.60" width="6.60" height="64.80" fill="#8234f8" stroke="#000" stroke-width="0.69"/>
<rect x="508.82" y="301.48" width="6.60" height="12.92" fill="#ececff" stroke="#000" stroke-width="0.69"/>
<line x1="498.93" y1="306.34" x2="498.93" y2="310.54" stroke="#000" stroke-width="0.805"/>
<line x1="497.62" y1="306.34" x2="500.23" y2="306.34" stroke="#000" stroke-width="0.805"/>
<line x1="497.62" y1="310.54" x2="500.23" y2="310.54" stroke="#000" stroke-width="0.805"/>
<line x1="505.52" y1="223.76" x2="505.52" y2="275.43" stroke="#000" stroke-width="0.805"/>
<line x1="504.22" y1="223.76" x2="506.82" y2="223.76" stroke="#000" stroke-width="0.805"/>
<line x1="504.22" y1="275.43" x2="506.82" y2="275.43" stroke="#000" stroke-width="0.805"/>
<line x1="512.12" y1="296.85" x2="512.12" y2="306.12" stroke="#000" stroke-width="0.805"/>
<line x1="510.82" y1="296.85" x2="513.42" y2="296.85" stroke="#000" stroke-width="0.805"/>
<line x1="510.82" y1="306.12" x2="513.42" y2="306.12" stroke="#000" stroke-width="0.805"/>
<line x1="297.40" y1="184.20" x2="297.40" y2="314.40" stroke="#000" stroke-width="1.035"/>
<line x1="297.40" y1="314.40" x2="519.40" y2="314.40" stroke="#000" stroke-width="1.035"/>
<line x1="295.80" y1="314.40" x2="297.40" y2="314.40" stroke="#000" stroke-width="0.92"/>
<text x="288.50" y="316.00" font-size="7.2" text-anchor="middle" font-weight="bold" font-style="normal"  stroke="#000" stroke-width="0.18">0</text>
<line x1="295.80" y1="292.30" x2="297.40" y2="292.30" stroke="#000" stroke-width="0.92"/>
<text x="288.50" y="293.90" font-size="7.2" text-anchor="middle" font-weight="bold" font-style="normal"  stroke="#000" stroke-width="0.18">20</text>
<line x1="295.80" y1="270.20" x2="297.40" y2="270.20" stroke="#000" stroke-width="0.92"/>
<text x="288.50" y="271.80" font-size="7.2" text-anchor="middle" font-weight="bold" font-style="normal"  stroke="#000" stroke-width="0.18">40</text>
<line x1="295.80" y1="248.00" x2="297.40" y2="248.00" stroke="#000" stroke-width="0.92"/>
<text x="288.50" y="249.60" font-size="7.2" text-anchor="middle" font-weight="bold" font-style="normal"  stroke="#000" stroke-width="0.18">60</text>
<line x1="295.80" y1="226.00" x2="297.40" y2="226.00" stroke="#000" stroke-width="0.92"/>
<text x="288.50" y="227.60" font-size="7.2" text-anchor="middle" font-weight="bold" font-style="normal"  stroke="#000" stroke-width="0.18">80</text>
<line x1="295.80" y1="204.00" x2="297.40" y2="204.00" stroke="#000" stroke-width="0.92"/>
<text x="288.50" y="205.60" font-size="7.2" text-anchor="middle" font-weight="bold" font-style="normal"  stroke="#000" stroke-width="0.18">100</text>
<line x1="295.80" y1="184.60" x2="297.40" y2="184.60" stroke="#000" stroke-width="0.92"/>
<text x="288.50" y="187.80" font-size="7.2" text-anchor="middle" font-weight="bold" font-style="normal"  stroke="#000" stroke-width="0.18">120</text>
<line x1="297.40" y1="314.40" x2="297.40" y2="316.40" stroke="#000" stroke-width="0.92"/>
<line x1="325.15" y1="314.40" x2="325.15" y2="316.40" stroke="#000" stroke-width="0.92"/>
<line x1="352.90" y1="314.40" x2="352.90" y2="316.40" stroke="#000" stroke-width="0.92"/>
<line x1="380.65" y1="314.40" x2="380.65" y2="316.40" stroke="#000" stroke-width="0.92"/>
<line x1="408.40" y1="314.40" x2="408.40" y2="316.40" stroke="#000" stroke-width="0.92"/>
<line x1="436.15" y1="314.40" x2="436.15" y2="316.40" stroke="#000" stroke-width="0.92"/>
<line x1="463.90" y1="314.40" x2="463.90" y2="316.40" stroke="#000" stroke-width="0.92"/>
<line x1="491.65" y1="314.40" x2="491.65" y2="316.40" stroke="#000" stroke-width="0.92"/>
<line x1="519.40" y1="314.40" x2="519.40" y2="316.40" stroke="#000" stroke-width="0.92"/>
<text x="309.70" y="325.30" font-size="6.8" text-anchor="middle" font-weight="normal" font-style="normal" letter-spacing="-0.2" stroke="#000" stroke-width="0.32">6.5 wpc</text>
<text x="338.70" y="325.30" font-size="6.8" text-anchor="middle" font-weight="normal" font-style="normal" letter-spacing="-0.2" stroke="#000" stroke-width="0.32">7.0 wpc</text>
<text x="367.80" y="325.30" font-size="6.8" text-anchor="middle" font-weight="normal" font-style="normal" letter-spacing="-0.2" stroke="#000" stroke-width="0.32">7.5 wpc</text>
<text x="395.00" y="325.30" font-size="6.8" text-anchor="middle" font-weight="normal" font-style="normal" letter-spacing="-0.2" stroke="#000" stroke-width="0.32">8 wpc</text>
<text x="422.10" y="325.30" font-size="6.8" text-anchor="middle" font-weight="normal" font-style="normal" letter-spacing="-0.2" stroke="#000" stroke-width="0.32">8.5 wpc</text>
<text x="448.70" y="325.30" font-size="6.8" text-anchor="middle" font-weight="normal" font-style="normal" letter-spacing="-0.2" stroke="#000" stroke-width="0.32">9 wpc</text>
<text x="475.40" y="325.30" font-size="6.8" text-anchor="middle" font-weight="normal" font-style="normal" letter-spacing="-0.2" stroke="#000" stroke-width="0.32">10 wpc</text>
<text x="505.00" y="325.30" font-size="6.8" text-anchor="middle" font-weight="normal" font-style="normal" letter-spacing="-0.2" stroke="#000" stroke-width="0.32">19/26 wpc</text>
<text x="400.20" y="338.20" font-size="7.6" text-anchor="middle" font-weight="bold" font-style="normal"  stroke="#000" stroke-width="0.18">Gestation</text>
<text transform="translate(281.10,246.40) rotate(-90)" font-size="7.7" text-anchor="middle" font-weight="bold" stroke="#000" stroke-width="0.18"><tspan font-style="italic">HNF4A</tspan> isoform expression</text>
<rect x="420.90" y="182.90" width="96.40" height="28.00" fill="#fff" stroke="#333" stroke-width="1.265"/>
<rect x="424.90" y="186.60" width="5.00" height="4.90" fill="#04a004" stroke="#000" stroke-width="0.805"/>
<text x="433.20" y="191.40" font-size="7.1" text-anchor="start" font-weight="bold" font-style="italic"  stroke="#000" stroke-width="0.18">HNF4A7</text>
<rect x="424.90" y="194.90" width="5.00" height="4.90" fill="#66ff00" stroke="#000" stroke-width="0.805"/>
<text x="433.20" y="199.70" font-size="7.1" text-anchor="start" font-weight="bold" font-style="italic"  stroke="#000" stroke-width="0.18">HNF4A8</text>
<rect x="424.90" y="203.00" width="5.00" height="4.90" fill="#cefb83" stroke="#000" stroke-width="0.805"/>
<text x="433.20" y="207.90" font-size="7.1" text-anchor="start" font-weight="bold" font-style="italic"  stroke="#000" stroke-width="0.18">HNF4A9</text>
<rect x="465.90" y="186.60" width="5.20" height="4.90" fill="#2a0d8c" stroke="#000" stroke-width="0.805"/>
<text x="474.90" y="191.40" font-size="7.3" text-anchor="start" font-weight="bold" font-style="italic"  stroke="#000" stroke-width="0.18">HNF4A1,A7</text>
<rect x="465.90" y="194.90" width="5.20" height="4.90" fill="#8234f8" stroke="#000" stroke-width="0.805"/>
<text x="474.90" y="199.70" font-size="7.3" text-anchor="start" font-weight="bold" font-style="italic"  stroke="#000" stroke-width="0.18">HNF4A2,A8</text>
<rect x="465.90" y="203.00" width="5.20" height="4.90" fill="#ececff" stroke="#000" stroke-width="0.805"/>
<text x="474.90" y="207.90" font-size="7.3" text-anchor="start" font-weight="bold" font-style="italic"  stroke="#000" stroke-width="0.18">HNF4A3,A9</text>
</g></svg></body></html>
